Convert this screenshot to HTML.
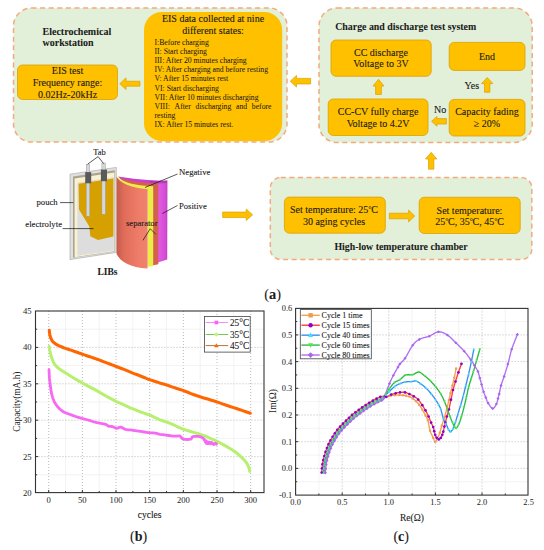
<!DOCTYPE html>
<html><head><meta charset="utf-8"><title>figure</title>
<style>html,body{margin:0;padding:0;background:#fff;}svg{display:block;}</style>
</head><body>
<svg width="544" height="550" viewBox="0 0 544 550" font-family='"Liberation Serif", serif'>
<rect width="544" height="550" fill="#ffffff"/>
<rect x="13.5" y="8" width="273.5" height="134" rx="18" ry="18" fill="#e2efd9" stroke="#f3aa7c" stroke-width="1.5" stroke-dasharray="5 3.6"/>
<text x="42.5" y="34.5" font-size="10" text-anchor="start" font-weight="bold" fill="#1a1a1a" stroke="#1a1a1a" stroke-width="0.06" >Electrochemical</text>
<text x="42.5" y="46.3" font-size="10" text-anchor="start" font-weight="bold" fill="#1a1a1a" stroke="#1a1a1a" stroke-width="0.06" >workstation</text>
<rect x="17.5" y="65" width="100.0" height="34.5" rx="5" ry="5" fill="#ffc000" stroke="#d9a100" stroke-width="0.8"/>
<text x="67.5" y="74" font-size="10" text-anchor="middle" font-weight="normal" fill="#1a1a1a" stroke="#1a1a1a" stroke-width="0.1" >EIS test</text>
<text x="67.5" y="86" font-size="10" text-anchor="middle" font-weight="normal" fill="#1a1a1a" stroke="#1a1a1a" stroke-width="0.1" >Frequency range:</text>
<text x="67.5" y="97.6" font-size="10" text-anchor="middle" font-weight="normal" fill="#1a1a1a" stroke="#1a1a1a" stroke-width="0.1" >0.02Hz-20kHz</text>
<polygon points="119.75,83.70 126.00,77.90 126.00,81.25 139.95,81.25 139.95,86.15 126.00,86.15 126.00,89.50" fill="#ffc000" stroke="#d9a100" stroke-width="0.7" stroke-linejoin="miter"/>
<rect x="144" y="12" width="138.2" height="129" rx="18" ry="18" fill="#ffc000"/>
<text x="213" y="22.3" font-size="10" text-anchor="middle" font-weight="normal" fill="#1a1a1a" stroke="#1a1a1a" stroke-width="0.1" >EIS data collected at nine</text>
<text x="213" y="34.0" font-size="10" text-anchor="middle" font-weight="normal" fill="#1a1a1a" stroke="#1a1a1a" stroke-width="0.1" >different states:</text>
<text x="154.5" y="44.60" font-size="7.7" text-anchor="start" font-weight="normal" fill="#1a1a1a" stroke="#1a1a1a" stroke-width="0.04" >I:Before charging</text>
<text x="154.5" y="53.78" font-size="7.7" text-anchor="start" font-weight="normal" fill="#1a1a1a" stroke="#1a1a1a" stroke-width="0.04" >II: Start charging</text>
<text x="154.5" y="62.96" font-size="7.7" text-anchor="start" font-weight="normal" fill="#1a1a1a" stroke="#1a1a1a" stroke-width="0.04" >III: After 20 minutes charging</text>
<text x="154.5" y="72.14" font-size="7.7" text-anchor="start" font-weight="normal" fill="#1a1a1a" stroke="#1a1a1a" stroke-width="0.04" >IV: After charging and before resting</text>
<text x="154.5" y="81.32" font-size="7.7" text-anchor="start" font-weight="normal" fill="#1a1a1a" stroke="#1a1a1a" stroke-width="0.04" >V: After 15 minutes rest</text>
<text x="154.5" y="90.50" font-size="7.7" text-anchor="start" font-weight="normal" fill="#1a1a1a" stroke="#1a1a1a" stroke-width="0.04" >VI: Start discharging</text>
<text x="154.5" y="99.68" font-size="7.7" text-anchor="start" font-weight="normal" fill="#1a1a1a" stroke="#1a1a1a" stroke-width="0.04" >VII: After 10 minutes discharging</text>
<text x="154.50" y="108.86" font-size="7.7" text-anchor="start" font-weight="normal" fill="#1a1a1a" stroke="#1a1a1a" stroke-width="0.04" >VIII:</text>
<text x="174.59" y="108.86" font-size="7.7" text-anchor="start" font-weight="normal" fill="#1a1a1a" stroke="#1a1a1a" stroke-width="0.04" >After</text>
<text x="195.54" y="108.86" font-size="7.7" text-anchor="start" font-weight="normal" fill="#1a1a1a" stroke="#1a1a1a" stroke-width="0.04" >discharging</text>
<text x="236.02" y="108.86" font-size="7.7" text-anchor="start" font-weight="normal" fill="#1a1a1a" stroke="#1a1a1a" stroke-width="0.04" >and</text>
<text x="251.84" y="108.86" font-size="7.7" text-anchor="start" font-weight="normal" fill="#1a1a1a" stroke="#1a1a1a" stroke-width="0.04" >before</text>
<text x="154.5" y="118.04" font-size="7.7" text-anchor="start" font-weight="normal" fill="#1a1a1a" stroke="#1a1a1a" stroke-width="0.04" >resting</text>
<text x="154.5" y="127.22" font-size="7.7" text-anchor="start" font-weight="normal" fill="#1a1a1a" stroke="#1a1a1a" stroke-width="0.04" >IX: After 15 minutes rest.</text>
<polygon points="290.25,81.20 296.50,75.40 296.50,78.40 310.65,78.40 310.65,84.00 296.50,84.00 296.50,87.00" fill="#ffc000" stroke="#d9a100" stroke-width="0.7" stroke-linejoin="miter"/>
<rect x="319" y="8" width="213.20000000000005" height="134.5" rx="18" ry="18" fill="#e2efd9" stroke="#f3aa7c" stroke-width="1.5" stroke-dasharray="5 3.6"/>
<text x="335.2" y="30.1" font-size="9.9" text-anchor="start" font-weight="bold" fill="#1a1a1a" stroke="#1a1a1a" stroke-width="0.06" >Charge and discharge test system</text>
<rect x="331" y="40" width="100.19999999999999" height="36.3" rx="5" ry="5" fill="#ffc000" stroke="#d9a100" stroke-width="0.8"/>
<text x="381" y="55.8" font-size="10" text-anchor="middle" font-weight="normal" fill="#1a1a1a" stroke="#1a1a1a" stroke-width="0.1" >CC discharge</text>
<text x="381" y="67.4" font-size="10" text-anchor="middle" font-weight="normal" fill="#1a1a1a" stroke="#1a1a1a" stroke-width="0.1" >Voltage to 3V</text>
<rect x="449.2" y="42.4" width="75.80000000000001" height="28.000000000000007" rx="5" ry="5" fill="#ffc000" stroke="#d9a100" stroke-width="0.8"/>
<text x="487" y="60" font-size="10" text-anchor="middle" font-weight="normal" fill="#1a1a1a" stroke="#1a1a1a" stroke-width="0.1" >End</text>
<polygon points="378.50,79.25 384.00,86.00 381.40,86.00 381.40,94.45 375.60,94.45 375.60,86.00 373.00,86.00" fill="#ffc000" stroke="#d9a100" stroke-width="0.7"/>
<polygon points="487.20,77.50 492.90,83.60 489.90,83.60 489.90,92.30 484.50,92.30 484.50,83.60 481.50,83.60" fill="#ffc000" stroke="#d9a100" stroke-width="0.7"/>
<text x="464.5" y="89" font-size="10" text-anchor="start" font-weight="normal" fill="#1a1a1a" stroke="#1a1a1a" stroke-width="0.1" >Yes</text>
<rect x="328.2" y="99" width="99.80000000000001" height="36.5" rx="5" ry="5" fill="#ffc000" stroke="#d9a100" stroke-width="0.8"/>
<text x="378.1" y="115" font-size="10" text-anchor="middle" font-weight="normal" fill="#1a1a1a" stroke="#1a1a1a" stroke-width="0.1" >CC-CV fully charge</text>
<text x="378.1" y="126.5" font-size="10" text-anchor="middle" font-weight="normal" fill="#1a1a1a" stroke="#1a1a1a" stroke-width="0.1" >Voltage to 4.2V</text>
<rect x="449.2" y="99.4" width="75.80000000000001" height="36.599999999999994" rx="5" ry="5" fill="#ffc000" stroke="#d9a100" stroke-width="0.8"/>
<text x="487" y="115.2" font-size="10" text-anchor="middle" font-weight="normal" fill="#1a1a1a" stroke="#1a1a1a" stroke-width="0.1" >Capacity fading</text>
<text x="487" y="126.7" font-size="10" text-anchor="middle" font-weight="normal" fill="#1a1a1a" stroke="#1a1a1a" stroke-width="0.1" >&#8805; 20%</text>
<text x="434" y="112.9" font-size="10" text-anchor="start" font-weight="normal" fill="#1a1a1a" stroke="#1a1a1a" stroke-width="0.1" >No</text>
<polygon points="431.55,121.30 437.00,116.40 437.00,118.55 446.45,118.55 446.45,124.05 437.00,124.05 437.00,126.20" fill="#ffc000" stroke="#d9a100" stroke-width="0.7" stroke-linejoin="miter"/>
<polygon points="431.20,152.35 436.90,159.00 433.90,159.00 433.90,169.15 428.50,169.15 428.50,159.00 425.50,159.00" fill="#ffc000" stroke="#d9a100" stroke-width="0.7"/>
<rect x="270.3" y="177.5" width="261.49999999999994" height="82.10000000000002" rx="10.5" ry="10.5" fill="#e2efd9" stroke="#f3aa7c" stroke-width="1.5" stroke-dasharray="5 3.6"/>
<rect x="284.4" y="197.1" width="100.90000000000003" height="36.099999999999994" rx="5" ry="5" fill="#ffc000" stroke="#d9a100" stroke-width="0.8"/>
<text x="334" y="213.3" font-size="10" text-anchor="middle" font-weight="normal" fill="#1a1a1a" stroke="#1a1a1a" stroke-width="0.1" >Set temperature: 25<tspan font-size="8" dy="-1.5">&#176;</tspan><tspan dy="1.5" dx="-0.3">C</tspan></text>
<text x="334" y="225" font-size="10" text-anchor="middle" font-weight="normal" fill="#1a1a1a" stroke="#1a1a1a" stroke-width="0.1" >30 aging cycles</text>
<polygon points="414.75,216.00 408.60,210.05 408.60,213.20 389.35,213.20 389.35,218.80 408.60,218.80 408.60,221.95" fill="#ffc000" stroke="#d9a100" stroke-width="0.7"/>
<rect x="419.2" y="197.3" width="101.00000000000006" height="36.19999999999999" rx="5" ry="5" fill="#ffc000" stroke="#d9a100" stroke-width="0.8"/>
<text x="469.5" y="213.9" font-size="10" text-anchor="middle" font-weight="normal" fill="#1a1a1a" stroke="#1a1a1a" stroke-width="0.1" >Set temperature:</text>
<text x="469.5" y="225" font-size="10" text-anchor="middle" font-weight="normal" fill="#1a1a1a" stroke="#1a1a1a" stroke-width="0.1" >25<tspan font-size="8" dy="-1.5">&#176;</tspan><tspan dy="1.5" dx="-0.3">C</tspan>, 35<tspan font-size="8" dy="-1.5">&#176;</tspan><tspan dy="1.5" dx="-0.3">C</tspan>, 45<tspan font-size="8" dy="-1.5">&#176;</tspan><tspan dy="1.5" dx="-0.3">C</tspan></text>
<text x="401" y="250.4" font-size="9.85" text-anchor="middle" font-weight="bold" fill="#1a1a1a" stroke="#1a1a1a" stroke-width="0.06" >High-low temperature chamber</text>
<polygon points="252.65,214.80 246.20,209.10 246.20,212.05 222.65,212.05 222.65,217.55 246.20,217.55 246.20,220.50" fill="#ffc000" stroke="#d9a100" stroke-width="0.7"/>
<g id="lib">
<defs>
<linearGradient id="gfront" x1="116" x2="148" y1="0" y2="0" gradientUnits="userSpaceOnUse">
<stop offset="0" stop-color="#c4594a"/><stop offset="0.25" stop-color="#e06c5a"/><stop offset="0.7" stop-color="#ee7c68"/><stop offset="1" stop-color="#f0826e"/>
</linearGradient>
<linearGradient id="gmag" x1="150" x2="168" y1="0" y2="0" gradientUnits="userSpaceOnUse">
<stop offset="0" stop-color="#c940c9"/><stop offset="0.5" stop-color="#e25ae2"/><stop offset="0.9" stop-color="#d24ad2"/><stop offset="1" stop-color="#9a2a9a"/>
</linearGradient>
</defs>
<polygon points="70,174.2 116.3,167.4 116.3,252.4 70,259.6" fill="#e0e0e0" stroke="#a2a2a2" stroke-width="0.6"/>
<polygon points="73.0,176.6 114.8,170.2 114.8,251.6 73.0,257.8" fill="#aaa48e"/>
<polygon points="74.6,178.6 114.4,172.6 114.4,251.2 74.6,257.2" fill="#f8f1d2"/>
<polygon points="77.4,182.6 113.8,177.2 113.8,250.4 77.4,255.8" fill="#dddddd"/>
<polygon points="78.6,183.8 113.4,178.6 113.4,236.6 98,239.9 90.3,236.2 89.3,226.6 79,209.5" fill="#d6a000"/>
<rect x="86.2" y="164.5" width="3.6" height="51.8" fill="#d6d6d6" stroke="#909090" stroke-width="0.4"/>
<rect x="85.2" y="172.1" width="6.0" height="11.2" fill="#5a5a5a"/>
<rect x="101.9" y="163" width="3.6" height="51.4" fill="#d6d6d6" stroke="#909090" stroke-width="0.4"/>
<rect x="100.9" y="169.6" width="6.1" height="11.6" fill="#5a5a5a"/>
<path d="M118.3,176.4 C132,178.6 150,180.8 167.4,180.4 L167.2,259.6 L158,262.5 L147.6,189.2 C135,188.5 124,184 118.3,176.4 Z" fill="url(#gmag)"/>
<path d="M150,180.6 C156,181 162,181.2 167.4,180.4 L166,183 C160,183.6 155,183.4 150,183 Z" fill="#9a2c9a" opacity="0.55"/>
<path d="M119.5,177.2 C128,181 140,183 158.3,183.6 L158.3,264.3 L152,265.5 L152,188 C136,188 126,183.5 119.5,177.2 Z" fill="#d4604e"/>
<path d="M117.2,176.2 C121,181.2 131,185.2 153.2,186.2 L153.2,266.2 L147.5,266.8 L147.5,190.4 C134,189.4 124,186 117.6,179 Z" fill="#eded4a"/>
<path d="M116.6,177.1 C120.5,183 130,187.8 147.6,189.2 L147.6,268.6 C130,267.6 120.5,262 116.6,254.1 Z" fill="url(#gfront)"/>
</g>
<text x="93.2" y="154.7" font-size="8.4" text-anchor="start" font-weight="normal" fill="#1a1a1a" stroke="#1a1a1a" stroke-width="0.1" >Tab</text>
<path d="M98.1,156.6 L87.6,164.2 M98.1,156.6 L103.6,163.6" stroke="#111" stroke-width="0.7" fill="none"/>
<text x="57.7" y="205.3" font-size="8.7" text-anchor="end" font-weight="normal" fill="#1a1a1a" stroke="#1a1a1a" stroke-width="0.1" >pouch</text>
<path d="M60,202.6 L73.3,202.6" stroke="#111" stroke-width="0.7"/>
<text x="62" y="227.3" font-size="8.7" text-anchor="end" font-weight="normal" fill="#1a1a1a" stroke="#1a1a1a" stroke-width="0.1" >electrolyte</text>
<path d="M62.6,228.6 L93.5,228.6" stroke="#111" stroke-width="0.7"/>
<text x="179" y="174.8" font-size="8.7" text-anchor="start" font-weight="normal" fill="#1a1a1a" stroke="#1a1a1a" stroke-width="0.1" >Negative</text>
<path d="M177.5,174 L145,187.5" stroke="#111" stroke-width="0.7"/>
<text x="179" y="208.8" font-size="8.6" text-anchor="start" font-weight="normal" fill="#1a1a1a" stroke="#1a1a1a" stroke-width="0.1" >Positive</text>
<path d="M177.5,205.5 L162.4,213.5" stroke="#111" stroke-width="0.7"/>
<text x="126" y="226.3" font-size="8.6" text-anchor="start" font-weight="normal" fill="#1a1a1a" stroke="#1a1a1a" stroke-width="0.1" >separator</text>
<path d="M143,240.3 L150.2,228.7 L155.8,234.3" stroke="#111" stroke-width="0.7" fill="none"/>
<text x="97.4" y="274.9" font-size="9.5" text-anchor="start" font-weight="bold" fill="#1a1a1a" stroke="#1a1a1a" stroke-width="0.06" >LIBs</text>
<text x="264.3" y="298.7" font-size="14.4" text-anchor="start" font-weight="bold" fill="#1a1a1a" stroke="#1a1a1a" stroke-width="0.06" ><tspan font-weight="normal">(</tspan>a<tspan font-weight="normal">)</tspan></text>
<line x1="48.70" y1="311.0" x2="48.70" y2="492.6" stroke="#a8a8a8" stroke-width="0.8" stroke-dasharray="1 2"/>
<line x1="65.53" y1="311.0" x2="65.53" y2="492.6" stroke="#eeeeee" stroke-width="0.7"/>
<line x1="82.37" y1="311.0" x2="82.37" y2="492.6" stroke="#a8a8a8" stroke-width="0.8" stroke-dasharray="1 2"/>
<line x1="99.20" y1="311.0" x2="99.20" y2="492.6" stroke="#eeeeee" stroke-width="0.7"/>
<line x1="116.03" y1="311.0" x2="116.03" y2="492.6" stroke="#a8a8a8" stroke-width="0.8" stroke-dasharray="1 2"/>
<line x1="132.86" y1="311.0" x2="132.86" y2="492.6" stroke="#eeeeee" stroke-width="0.7"/>
<line x1="149.69" y1="311.0" x2="149.69" y2="492.6" stroke="#a8a8a8" stroke-width="0.8" stroke-dasharray="1 2"/>
<line x1="166.53" y1="311.0" x2="166.53" y2="492.6" stroke="#eeeeee" stroke-width="0.7"/>
<line x1="183.36" y1="311.0" x2="183.36" y2="492.6" stroke="#a8a8a8" stroke-width="0.8" stroke-dasharray="1 2"/>
<line x1="200.19" y1="311.0" x2="200.19" y2="492.6" stroke="#eeeeee" stroke-width="0.7"/>
<line x1="217.02" y1="311.0" x2="217.02" y2="492.6" stroke="#a8a8a8" stroke-width="0.8" stroke-dasharray="1 2"/>
<line x1="233.86" y1="311.0" x2="233.86" y2="492.6" stroke="#eeeeee" stroke-width="0.7"/>
<line x1="250.69" y1="311.0" x2="250.69" y2="492.6" stroke="#a8a8a8" stroke-width="0.8" stroke-dasharray="1 2"/>
<line x1="35.5" y1="474.80" x2="264.0" y2="474.80" stroke="#eeeeee" stroke-width="0.7"/>
<line x1="35.5" y1="456.60" x2="264.0" y2="456.60" stroke="#a8a8a8" stroke-width="0.8" stroke-dasharray="1 2"/>
<line x1="35.5" y1="438.40" x2="264.0" y2="438.40" stroke="#eeeeee" stroke-width="0.7"/>
<line x1="35.5" y1="420.20" x2="264.0" y2="420.20" stroke="#a8a8a8" stroke-width="0.8" stroke-dasharray="1 2"/>
<line x1="35.5" y1="402.00" x2="264.0" y2="402.00" stroke="#eeeeee" stroke-width="0.7"/>
<line x1="35.5" y1="383.80" x2="264.0" y2="383.80" stroke="#a8a8a8" stroke-width="0.8" stroke-dasharray="1 2"/>
<line x1="35.5" y1="365.60" x2="264.0" y2="365.60" stroke="#eeeeee" stroke-width="0.7"/>
<line x1="35.5" y1="347.40" x2="264.0" y2="347.40" stroke="#a8a8a8" stroke-width="0.8" stroke-dasharray="1 2"/>
<line x1="35.5" y1="329.20" x2="264.0" y2="329.20" stroke="#eeeeee" stroke-width="0.7"/>
<polyline points="49.20,346.40 49.37,347.60 49.61,349.31 49.90,351.00 50.22,352.47 50.58,353.91 51.00,355.40 51.46,356.97 51.97,358.59 52.60,360.20 53.36,361.85 54.23,363.50 55.20,365.00 56.19,366.20 57.27,367.24 58.70,368.40 60.59,369.75 62.82,371.21 65.30,372.80 68.11,374.59 71.17,376.51 74.10,378.30 76.79,379.87 79.35,381.33 81.80,382.70 84.07,383.97 86.23,385.17 88.50,386.40 90.91,387.65 93.44,388.94 96.20,390.40 99.30,392.16 102.64,394.10 106.00,396.00 109.39,397.85 112.81,399.67 116.00,401.30 118.75,402.60 121.28,403.71 124.00,404.90 127.08,406.29 130.35,407.76 133.70,409.20 137.28,410.63 140.94,412.03 144.10,413.20 146.40,413.99 148.19,414.55 150.00,415.20 152.07,416.11 154.14,417.11 156.00,418.00 157.30,418.63 158.38,419.14 160.00,419.80 162.67,420.74 165.89,421.82 168.90,422.90 171.39,423.93 173.69,424.96 176.00,426.00 178.27,427.05 180.56,428.11 183.30,429.20 186.81,430.32 190.76,431.46 194.60,432.60 198.26,433.76 201.81,434.93 204.90,436.00 207.25,436.92 209.13,437.76 211.00,438.60 213.14,439.54 215.26,440.49 217.00,441.30 217.98,441.81 218.57,442.17 219.50,442.70 221.11,443.54 223.06,444.56 225.00,445.60 226.83,446.63 228.66,447.69 230.50,448.80 232.36,449.95 234.24,451.16 236.10,452.50 238.01,454.08 239.90,455.80 241.60,457.40 243.02,458.80 244.24,460.09 245.30,461.30 246.17,462.42 246.88,463.46 247.50,464.50 248.04,465.55 248.50,466.60 248.90,467.70 249.27,469.03 249.59,470.42 249.80,471.40" fill="none" stroke="#b6f06e" stroke-width="3.0" stroke-linejoin="round" stroke-linecap="round" />
<polyline points="49.00,369.70 49.11,372.04 49.27,375.37 49.50,378.70 49.82,381.76 50.21,384.81 50.60,387.60 50.93,389.97 51.25,392.09 51.70,394.20 52.31,396.44 53.04,398.68 53.90,400.80 54.88,402.76 55.98,404.60 57.20,406.30 58.58,407.86 60.09,409.27 61.60,410.50 62.93,411.43 64.28,412.18 66.10,413.00 68.76,414.05 71.90,415.17 74.90,416.20 77.56,417.06 80.08,417.83 82.40,418.50 84.43,419.05 86.25,419.51 88.10,420.00 90.05,420.59 92.02,421.22 94.00,421.80 96.01,422.31 98.03,422.77 100.00,423.20 101.95,423.56 103.85,423.88 105.50,424.30 106.76,424.97 107.78,425.73 108.80,426.30 109.86,426.44 110.92,426.38 112.10,426.50 113.54,427.09 115.10,427.85 116.50,428.30 117.62,428.13 118.58,427.65 119.50,427.30 120.37,427.21 121.20,427.26 122.10,427.50 122.99,428.04 123.95,428.78 125.40,429.40 127.52,429.74 130.13,429.98 133.10,430.30 136.73,430.84 140.72,431.48 144.10,432.00 146.34,432.32 147.97,432.53 149.60,432.70 151.46,432.83 153.31,432.92 155.10,433.10 156.63,433.44 158.09,433.87 160.00,434.30 162.76,434.72 165.97,435.14 168.90,435.50 171.29,435.81 173.40,436.06 175.30,436.20 177.01,436.06 178.51,435.80 179.80,435.90 180.79,436.71 181.56,437.89 182.40,438.80 183.35,439.20 184.37,439.34 185.60,439.40 187.27,439.48 189.16,439.47 190.70,439.20 191.50,438.42 191.96,437.38 192.70,436.60 194.04,436.33 195.66,436.32 197.20,436.40 198.54,436.47 199.80,436.64 201.00,437.00 202.19,437.61 203.32,438.43 204.30,439.40 205.01,440.69 205.57,442.14 206.20,443.20 207.02,443.61 207.91,443.64 208.80,443.50 209.66,443.09 210.51,442.52 211.30,442.30 212.01,442.83 212.66,443.71 213.30,444.30 213.96,444.23 214.61,443.85 215.20,443.60 215.73,443.67 216.19,443.86 216.50,444.00" fill="none" stroke="#f569f3" stroke-width="2.8" stroke-linejoin="round" stroke-linecap="round" />
<polyline points="203.90,439.10 205.60,442.10 206.60,440.60 207.30,443.80 209.00,441.70 210.70,444.20 212.40,442.90 214.10,444.60 215.50,443.00 216.60,444.20" fill="none" stroke="#f569f3" stroke-width="2.2" stroke-linejoin="round" stroke-linecap="round" />
<polyline points="49.30,330.40 49.40,331.49 49.56,333.04 49.80,334.60 50.14,336.03 50.56,337.46 51.10,338.80 51.76,340.03 52.52,341.17 53.40,342.20 54.41,343.10 55.53,343.88 56.70,344.60 57.89,345.24 59.13,345.81 60.50,346.40 62.04,347.05 63.71,347.73 65.50,348.40 67.47,349.07 69.57,349.74 71.60,350.40 73.49,351.04 75.30,351.67 77.10,352.30 78.87,352.93 80.61,353.56 82.40,354.20 84.28,354.87 86.20,355.54 88.10,356.20 89.95,356.81 91.77,357.40 93.60,358.00 95.40,358.60 97.20,359.22 99.10,359.90 101.20,360.70 103.40,361.57 105.50,362.40 107.41,363.13 109.21,363.82 111.00,364.50 112.76,365.17 114.50,365.82 116.30,366.50 118.21,367.22 120.17,367.96 122.10,368.70 123.97,369.43 125.80,370.17 127.60,370.90 129.33,371.63 131.03,372.37 132.80,373.10 134.70,373.83 136.67,374.57 138.60,375.30 140.47,376.04 142.31,376.78 144.10,377.50 145.77,378.19 147.38,378.85 149.10,379.50 151.05,380.14 153.11,380.78 155.10,381.40 156.92,382.01 158.68,382.61 160.50,383.20 162.40,383.74 164.37,384.26 166.50,384.90 168.83,385.72 171.33,386.66 174.00,387.60 176.93,388.51 180.02,389.43 183.00,390.40 185.70,391.44 188.29,392.52 191.00,393.60 193.98,394.69 197.08,395.79 200.10,396.80 202.95,397.68 205.72,398.49 208.50,399.30 211.34,400.15 214.20,401.01 217.00,401.90 219.68,402.85 222.31,403.83 225.00,404.80 227.83,405.74 230.73,406.67 233.60,407.60 236.42,408.53 239.21,409.47 242.00,410.40 245.08,411.44 248.15,412.47 250.30,413.20" fill="none" stroke="#ff6600" stroke-width="3.1" stroke-linejoin="round" stroke-linecap="round" />
<rect x="35.5" y="311.0" width="228.5" height="181.60000000000002" fill="none" stroke="#333" stroke-width="1.1"/>
<path d="M48.70,492.6 v-2.6 M65.53,492.6 v-1.6 M82.37,492.6 v-2.6 M99.20,492.6 v-1.6 M116.03,492.6 v-2.6 M132.86,492.6 v-1.6 M149.69,492.6 v-2.6 M166.53,492.6 v-1.6 M183.36,492.6 v-2.6 M200.19,492.6 v-1.6 M217.02,492.6 v-2.6 M233.86,492.6 v-1.6 M250.69,492.6 v-2.6 M35.5,474.80 h1.6 M35.5,456.60 h2.6 M35.5,438.40 h1.6 M35.5,420.20 h2.6 M35.5,402.00 h1.6 M35.5,383.80 h2.6 M35.5,365.60 h1.6 M35.5,347.40 h2.6 M35.5,329.20 h1.6" stroke="#333" stroke-width="1"/>
<text x="31.6" y="496.00" font-size="8.6" text-anchor="end" font-weight="normal" fill="#1a1a1a" stroke="#1a1a1a" stroke-width="0" >20</text>
<text x="31.6" y="459.60" font-size="8.6" text-anchor="end" font-weight="normal" fill="#1a1a1a" stroke="#1a1a1a" stroke-width="0" >25</text>
<text x="31.6" y="423.20" font-size="8.6" text-anchor="end" font-weight="normal" fill="#1a1a1a" stroke="#1a1a1a" stroke-width="0" >30</text>
<text x="31.6" y="386.80" font-size="8.6" text-anchor="end" font-weight="normal" fill="#1a1a1a" stroke="#1a1a1a" stroke-width="0" >35</text>
<text x="31.6" y="350.40" font-size="8.6" text-anchor="end" font-weight="normal" fill="#1a1a1a" stroke="#1a1a1a" stroke-width="0" >40</text>
<text x="31.6" y="314.00" font-size="8.6" text-anchor="end" font-weight="normal" fill="#1a1a1a" stroke="#1a1a1a" stroke-width="0" >45</text>
<text x="48.70" y="502.5" font-size="8.6" text-anchor="middle" font-weight="normal" fill="#1a1a1a" stroke="#1a1a1a" stroke-width="0" >0</text>
<text x="82.37" y="502.5" font-size="8.6" text-anchor="middle" font-weight="normal" fill="#1a1a1a" stroke="#1a1a1a" stroke-width="0" >50</text>
<text x="116.03" y="502.5" font-size="8.6" text-anchor="middle" font-weight="normal" fill="#1a1a1a" stroke="#1a1a1a" stroke-width="0" >100</text>
<text x="149.69" y="502.5" font-size="8.6" text-anchor="middle" font-weight="normal" fill="#1a1a1a" stroke="#1a1a1a" stroke-width="0" >150</text>
<text x="183.36" y="502.5" font-size="8.6" text-anchor="middle" font-weight="normal" fill="#1a1a1a" stroke="#1a1a1a" stroke-width="0" >200</text>
<text x="217.02" y="502.5" font-size="8.6" text-anchor="middle" font-weight="normal" fill="#1a1a1a" stroke="#1a1a1a" stroke-width="0" >250</text>
<text x="250.69" y="502.5" font-size="8.6" text-anchor="middle" font-weight="normal" fill="#1a1a1a" stroke="#1a1a1a" stroke-width="0" >300</text>
<text x="149.6" y="517.9" font-size="9.5" text-anchor="middle" font-weight="normal" fill="#1a1a1a" stroke="#1a1a1a" stroke-width="0.1" >cycles</text>
<text x="0" y="0" font-size="9.3" text-anchor="middle" fill="#1a1a1a" transform="translate(19.6,401.7) rotate(-90)">Capacity(mA.h)</text>
<text x="130" y="541.1" font-size="14" text-anchor="start" font-weight="bold" fill="#1a1a1a" stroke="#1a1a1a" stroke-width="0.06" ><tspan font-weight="normal">(</tspan>b<tspan font-weight="normal">)</tspan></text>
<rect x="204.5" y="316.4" width="45.7" height="35.7" fill="#fff" stroke="#444" stroke-width="0.8"/>
<line x1="205.7" y1="322.5" x2="228.2" y2="322.5" stroke="#ff88ff" stroke-width="1"/>
<rect x="214.6" y="320.7" width="3.6" height="3.6" fill="#ff5cff"/>
<line x1="205.7" y1="334.5" x2="228.2" y2="334.5" stroke="#78c848" stroke-width="1"/>
<circle cx="216.4" cy="334.5" r="2" fill="#c8f090"/>
<line x1="205.7" y1="345.6" x2="228.2" y2="345.6" stroke="#c0703c" stroke-width="1"/>
<polygon points="216.4,343.2 218.7,347.3 214.1,347.3" fill="#ff6600"/>
<text x="229.9" y="325.7" font-size="9.4" text-anchor="start" font-weight="normal" fill="#1a1a1a" stroke="#1a1a1a" stroke-width="0.1" >25&#176;C</text>
<text x="229.9" y="337.8" font-size="9.4" text-anchor="start" font-weight="normal" fill="#1a1a1a" stroke="#1a1a1a" stroke-width="0.1" >35&#176;C</text>
<text x="229.9" y="348.9" font-size="9.4" text-anchor="start" font-weight="normal" fill="#1a1a1a" stroke="#1a1a1a" stroke-width="0.1" >45&#176;C</text>
<line x1="318.90" y1="308.4" x2="318.90" y2="495.1" stroke="#eeeeee" stroke-width="0.7"/>
<line x1="342.20" y1="308.4" x2="342.20" y2="495.1" stroke="#a8a8a8" stroke-width="0.8" stroke-dasharray="1 2"/>
<line x1="365.50" y1="308.4" x2="365.50" y2="495.1" stroke="#eeeeee" stroke-width="0.7"/>
<line x1="388.80" y1="308.4" x2="388.80" y2="495.1" stroke="#a8a8a8" stroke-width="0.8" stroke-dasharray="1 2"/>
<line x1="412.10" y1="308.4" x2="412.10" y2="495.1" stroke="#eeeeee" stroke-width="0.7"/>
<line x1="435.40" y1="308.4" x2="435.40" y2="495.1" stroke="#a8a8a8" stroke-width="0.8" stroke-dasharray="1 2"/>
<line x1="458.70" y1="308.4" x2="458.70" y2="495.1" stroke="#eeeeee" stroke-width="0.7"/>
<line x1="482.00" y1="308.4" x2="482.00" y2="495.1" stroke="#a8a8a8" stroke-width="0.8" stroke-dasharray="1 2"/>
<line x1="505.30" y1="308.4" x2="505.30" y2="495.1" stroke="#eeeeee" stroke-width="0.7"/>
<line x1="295.6" y1="481.75" x2="528.0" y2="481.75" stroke="#eeeeee" stroke-width="0.7"/>
<line x1="295.6" y1="468.40" x2="528.0" y2="468.40" stroke="#a8a8a8" stroke-width="0.8" stroke-dasharray="1 2"/>
<line x1="295.6" y1="455.05" x2="528.0" y2="455.05" stroke="#eeeeee" stroke-width="0.7"/>
<line x1="295.6" y1="441.70" x2="528.0" y2="441.70" stroke="#a8a8a8" stroke-width="0.8" stroke-dasharray="1 2"/>
<line x1="295.6" y1="428.35" x2="528.0" y2="428.35" stroke="#eeeeee" stroke-width="0.7"/>
<line x1="295.6" y1="415.00" x2="528.0" y2="415.00" stroke="#a8a8a8" stroke-width="0.8" stroke-dasharray="1 2"/>
<line x1="295.6" y1="401.65" x2="528.0" y2="401.65" stroke="#eeeeee" stroke-width="0.7"/>
<line x1="295.6" y1="388.30" x2="528.0" y2="388.30" stroke="#a8a8a8" stroke-width="0.8" stroke-dasharray="1 2"/>
<line x1="295.6" y1="374.95" x2="528.0" y2="374.95" stroke="#eeeeee" stroke-width="0.7"/>
<line x1="295.6" y1="361.60" x2="528.0" y2="361.60" stroke="#a8a8a8" stroke-width="0.8" stroke-dasharray="1 2"/>
<line x1="295.6" y1="348.25" x2="528.0" y2="348.25" stroke="#eeeeee" stroke-width="0.7"/>
<line x1="295.6" y1="334.90" x2="528.0" y2="334.90" stroke="#a8a8a8" stroke-width="0.8" stroke-dasharray="1 2"/>
<line x1="295.6" y1="321.55" x2="528.0" y2="321.55" stroke="#eeeeee" stroke-width="0.7"/>
<polyline points="323.30,472.68 323.41,471.28 323.56,469.26 323.76,467.02 324.00,464.97 324.29,463.19 324.62,461.46 324.99,459.76 325.41,458.05 325.87,456.32 326.37,454.59 326.92,452.86 327.51,451.13 328.15,449.39 328.83,447.63 329.56,445.89 330.32,444.21 331.11,442.61 331.94,441.07 332.81,439.54 333.73,438.00 334.71,436.40 335.75,434.79 336.83,433.20 337.94,431.68 339.10,430.23 340.30,428.83 341.53,427.47 342.75,426.16 343.98,424.91 345.21,423.70 346.44,422.53 347.66,421.36 348.87,420.17 350.07,418.99 351.27,417.84 352.47,416.75 353.67,415.73 354.87,414.78 356.08,413.85 357.28,412.94 358.48,412.04 359.67,411.16 360.87,410.30 362.08,409.44 363.32,408.57 364.58,407.71 365.83,406.86 367.09,406.03 368.34,405.23 369.60,404.44 370.85,403.67 372.10,402.93 373.36,402.21 374.62,401.52 375.87,400.85 377.11,400.22 378.33,399.61 379.54,399.01 380.74,398.47 381.92,398.02 383.09,397.69 384.25,397.45 385.39,397.25 386.50,397.00 387.55,396.68 388.56,396.32 389.57,395.98 390.60,395.70 391.68,395.51 392.78,395.38 393.89,395.28 395.00,395.20 396.12,395.14 397.25,395.11 398.36,395.09 399.40,395.10 400.37,395.12 401.29,395.17 402.16,395.23 403.00,395.30 403.78,395.37 404.51,395.46 405.23,395.56 406.00,395.70 406.85,395.87 407.74,396.06 408.63,396.29 409.50,396.60 410.32,396.99 411.11,397.44 411.90,397.95 412.70,398.50 413.52,399.10 414.36,399.76 415.19,400.46 416.00,401.20 416.76,401.96 417.50,402.76 418.24,403.62 419.00,404.60 419.80,405.71 420.63,406.94 421.47,408.24 422.30,409.60 423.15,411.06 424.02,412.63 424.85,414.18 425.60,415.60 426.23,416.71 426.76,417.62 427.27,418.67 427.80,420.20 428.35,422.49 428.89,425.29 429.47,428.18 430.10,430.70 430.84,432.78 431.67,434.65 432.48,436.32 433.20,437.80 433.78,439.20 434.27,440.48 434.73,441.44 435.20,441.90 435.69,441.72 436.16,441.04 436.66,440.04 437.20,438.90 437.82,437.60 438.50,436.06 439.18,434.39 439.80,432.70 440.33,431.01 440.80,429.27 441.27,427.47 441.80,425.60 442.41,423.67 443.07,421.68 443.74,419.63 444.40,417.50 445.04,415.25 445.69,412.90 446.31,410.55 446.90,408.30 447.44,406.17 447.96,404.12 448.44,402.13 448.90,400.20 449.32,398.36 449.71,396.61 450.09,394.88 450.50,393.10 450.95,391.26 451.43,389.41 451.92,387.52 452.40,385.60 452.88,383.66 453.36,381.70 453.83,379.69 454.30,377.60 454.80,375.19 455.32,372.55 455.78,370.16 456.10,368.50" fill="none" stroke="#f7a055" stroke-width="1.35" stroke-linejoin="round" stroke-linecap="round" />
<polyline points="321.71,472.54 321.82,471.12 321.97,469.08 322.17,466.82 322.42,464.74 322.71,462.92 323.05,461.15 323.43,459.41 323.86,457.66 324.33,455.89 324.84,454.13 325.40,452.36 326.00,450.60 326.66,448.81 327.35,447.02 328.10,445.25 328.87,443.53 329.68,441.89 330.53,440.31 331.42,438.75 332.36,437.16 333.37,435.54 334.43,433.89 335.53,432.27 336.67,430.71 337.85,429.22 339.09,427.79 340.34,426.40 341.59,425.07 342.83,423.79 344.07,422.58 345.31,421.39 346.55,420.21 347.77,419.01 348.98,417.82 350.20,416.65 351.41,415.55 352.64,414.51 353.86,413.54 355.09,412.59 356.31,411.67 357.52,410.76 358.73,409.87 359.94,409.00 361.16,408.13 362.41,407.25 363.68,406.39 364.95,405.53 366.22,404.69 367.49,403.87 368.76,403.07 370.03,402.30 371.30,401.54 372.58,400.81 373.86,400.11 375.14,399.43 376.40,398.79 377.62,398.14 378.83,397.49 380.04,396.93 381.25,396.56 382.48,396.51 383.72,396.68 384.96,396.85 386.20,396.80 387.46,396.40 388.73,395.80 389.99,395.14 391.20,394.60 392.34,394.20 393.44,393.87 394.51,393.58 395.60,393.30 396.69,393.03 397.76,392.77 398.86,392.55 400.00,392.40 401.22,392.30 402.50,392.24 403.78,392.27 405.00,392.40 406.14,392.67 407.24,393.06 408.31,393.51 409.40,394.00 410.50,394.50 411.60,395.04 412.70,395.64 413.80,396.30 414.91,397.00 416.02,397.74 417.12,398.59 418.20,399.60 419.27,400.85 420.32,402.28 421.35,403.77 422.30,405.20 423.17,406.51 423.96,407.77 424.73,409.05 425.50,410.40 426.30,411.86 427.09,413.39 427.87,414.95 428.60,416.50 429.28,418.06 429.91,419.65 430.52,421.19 431.10,422.60 431.68,423.85 432.24,424.98 432.76,426.04 433.20,427.10 433.53,428.16 433.77,429.21 433.98,430.22 434.20,431.20 434.44,432.15 434.67,433.07 434.91,433.95 435.20,434.80 435.53,435.62 435.88,436.43 436.27,437.16 436.70,437.80 437.19,438.37 437.72,438.89 438.27,439.26 438.80,439.40 439.32,439.26 439.84,438.89 440.34,438.37 440.80,437.80 441.22,437.15 441.61,436.39 441.97,435.59 442.30,434.80 442.58,434.08 442.83,433.38 443.05,432.62 443.30,431.70 443.57,430.54 443.85,429.21 444.13,427.84 444.40,426.60 444.65,425.57 444.87,424.66 445.12,423.72 445.40,422.60 445.73,421.25 446.09,419.75 446.48,418.15 446.90,416.50 447.36,414.83 447.86,413.12 448.38,411.29 448.90,409.30 449.42,407.07 449.95,404.66 450.48,402.16 451.00,399.70 451.50,397.25 451.98,394.78 452.47,392.34 453.00,390.00 453.58,387.80 454.19,385.71 454.84,383.64 455.50,381.50 456.19,379.26 456.91,376.96 457.65,374.65 458.40,372.40 459.23,370.01 460.13,367.53 460.94,365.33 461.50,363.80" fill="none" stroke="#ff3c3c" stroke-width="1.35" stroke-linejoin="round" stroke-linecap="round" />
<polyline points="323.50,472.70 323.61,471.30 323.76,469.28 323.96,467.05 324.20,465.00 324.48,463.22 324.81,461.50 325.18,459.81 325.60,458.10 326.06,456.38 326.56,454.65 327.11,452.93 327.70,451.20 328.34,449.46 329.02,447.71 329.74,445.98 330.50,444.30 331.29,442.70 332.11,441.16 332.98,439.64 333.90,438.10 334.88,436.51 335.91,434.91 336.99,433.32 338.10,431.80 339.26,430.35 340.46,428.96 341.68,427.61 342.90,426.30 344.12,425.05 345.35,423.84 346.58,422.67 347.80,421.50 349.01,420.32 350.21,419.14 351.40,417.99 352.60,416.90 353.80,415.89 355.00,414.93 356.20,414.01 357.40,413.10 358.60,412.20 359.79,411.33 360.99,410.46 362.20,409.60 363.44,408.74 364.69,407.88 365.95,407.03 367.20,406.20 368.45,405.39 369.70,404.61 370.95,403.84 372.20,403.10 373.45,402.39 374.71,401.69 375.96,401.03 377.20,400.40 378.35,399.93 379.44,399.56 380.61,399.07 382.00,398.20 383.73,396.76 385.71,394.92 387.70,393.00 389.50,391.30 391.03,389.86 392.41,388.54 393.71,387.34 395.00,386.30 396.27,385.44 397.50,384.74 398.73,384.15 400.00,383.60 401.34,383.07 402.72,382.60 404.11,382.20 405.50,381.90 406.89,381.73 408.28,381.67 409.66,381.66 411.00,381.60 412.30,381.42 413.57,381.18 414.80,381.02 416.00,381.10 417.12,381.47 418.17,382.04 419.24,382.77 420.40,383.60 421.70,384.53 423.08,385.58 424.50,386.74 425.90,388.00 427.30,389.39 428.72,390.89 430.10,392.46 431.40,394.00 432.61,395.56 433.77,397.14 434.84,398.69 435.80,400.10 436.63,401.33 437.34,402.44 437.98,403.50 438.60,404.60 439.19,405.66 439.72,406.66 440.24,407.80 440.80,409.30 441.40,411.38 442.03,413.88 442.66,416.38 443.30,418.50 443.95,420.05 444.60,421.27 445.25,422.39 445.90,423.60 446.54,425.04 447.18,426.56 447.81,428.01 448.40,429.20 448.94,430.17 449.45,430.99 449.96,431.53 450.50,431.70 451.09,431.43 451.72,430.80 452.36,429.87 453.00,428.70 453.65,427.24 454.30,425.48 454.95,423.55 455.60,421.60 456.23,419.62 456.86,417.56 457.48,415.47 458.10,413.40 458.72,411.39 459.34,409.41 459.97,407.40 460.60,405.30 461.24,403.11 461.89,400.86 462.55,398.52 463.20,396.10 463.85,393.56 464.49,390.93 465.14,388.23 465.80,385.50 466.49,382.75 467.19,379.95 467.90,377.10 468.60,374.20 469.29,371.22 469.97,368.18 470.64,365.10 471.30,362.00 472.00,358.58 472.72,354.94 473.36,351.67 473.80,349.40" fill="none" stroke="#3c8cf0" stroke-width="1.35" stroke-linejoin="round" stroke-linecap="round" />
<polyline points="324.10,472.75 324.21,471.36 324.36,469.35 324.55,467.12 324.79,465.09 325.08,463.32 325.40,461.62 325.77,459.94 326.18,458.25 326.64,456.54 327.14,454.82 327.68,453.11 328.27,451.40 328.90,449.67 329.57,447.93 330.29,446.22 331.04,444.56 331.82,442.97 332.64,441.45 333.50,439.94 334.41,438.41 335.38,436.84 336.41,435.24 337.48,433.67 338.58,432.16 339.72,430.73 340.91,429.35 342.12,428.01 343.34,426.71 344.55,425.46 345.78,424.27 347.00,423.10 348.22,421.93 349.42,420.75 350.61,419.58 351.80,418.44 353.00,417.35 354.19,416.34 355.38,415.40 356.57,414.48 357.76,413.58 358.95,412.68 360.14,411.81 361.34,410.95 362.55,410.09 363.78,409.23 365.02,408.37 366.28,407.53 367.53,406.70 368.77,405.90 370.01,405.12 371.26,404.35 372.50,403.62 373.75,402.91 375.00,402.22 376.24,401.56 377.47,400.94 378.62,400.54 379.72,400.31 380.89,399.85 382.25,398.75 383.94,396.65 385.86,393.86 387.79,390.95 389.50,388.50 390.90,386.63 392.11,385.03 393.27,383.68 394.50,382.50 395.84,381.62 397.22,381.02 398.61,380.46 400.00,379.70 401.34,378.55 402.66,377.19 404.02,375.90 405.50,375.00 407.16,374.69 408.96,374.78 410.77,374.93 412.50,374.80 414.11,374.13 415.66,373.14 417.18,372.29 418.70,372.00 420.25,372.48 421.79,373.47 423.32,374.70 424.80,375.90 426.22,377.03 427.59,378.21 428.94,379.47 430.30,380.80 431.69,382.22 433.08,383.71 434.46,385.28 435.80,386.90 437.12,388.60 438.42,390.38 439.66,392.19 440.80,394.00 441.81,395.77 442.72,397.54 443.57,399.33 444.40,401.20 445.20,403.18 445.96,405.25 446.69,407.32 447.40,409.30 448.08,411.19 448.73,413.03 449.37,414.80 450.00,416.50 450.64,418.15 451.29,419.75 451.91,421.25 452.50,422.60 453.04,423.80 453.56,424.88 454.04,425.82 454.50,426.60 454.91,427.29 455.27,427.88 455.65,428.22 456.10,428.20 456.66,427.75 457.29,426.94 457.95,425.87 458.60,424.60 459.24,423.14 459.88,421.46 460.53,419.58 461.20,417.50 461.90,415.17 462.61,412.59 463.32,409.92 464.00,407.30 464.63,404.78 465.23,402.28 465.81,399.76 466.40,397.20 467.00,394.49 467.61,391.69 468.21,388.96 468.80,386.50 469.38,384.40 469.96,382.54 470.53,380.79 471.10,379.00 471.65,377.23 472.19,375.52 472.76,373.71 473.40,371.60 474.14,369.09 474.94,366.29 475.78,363.37 476.60,360.50 477.48,357.44 478.40,354.21 479.23,351.31 479.80,349.30" fill="none" stroke="#30b848" stroke-width="1.35" stroke-linejoin="round" stroke-linecap="round" />
<polyline points="325.39,472.87 325.50,471.49 325.65,469.49 325.85,467.29 326.08,465.27 326.36,463.53 326.68,461.86 327.04,460.22 327.44,458.57 327.89,456.89 328.38,455.20 328.91,453.52 329.49,451.84 330.11,450.14 330.78,448.43 331.48,446.74 332.22,445.11 332.98,443.56 333.79,442.06 334.63,440.58 335.52,439.09 336.48,437.54 337.48,435.98 338.53,434.43 339.61,432.95 340.73,431.55 341.90,430.19 343.09,428.88 344.28,427.60 345.48,426.37 346.70,425.18 347.92,424.02 349.12,422.86 350.31,421.70 351.50,420.53 352.67,419.40 353.85,418.33 355.03,417.34 356.20,416.40 357.37,415.50 358.55,414.61 359.73,413.73 360.91,412.86 362.09,412.01 363.29,411.15 364.52,410.30 365.75,409.45 367.00,408.61 368.24,407.79 369.47,407.00 370.70,406.22 371.93,405.47 373.15,404.74 374.38,404.04 375.61,403.37 376.84,402.72 378.05,402.10 379.33,401.52 380.65,400.97 381.86,400.45 382.79,399.93 383.24,399.70 383.35,399.67 383.48,399.27 384.00,397.90 385.11,395.05 386.58,391.14 388.14,387.04 389.50,383.60 390.57,381.10 391.51,379.07 392.41,377.23 393.40,375.30 394.57,373.12 395.83,370.87 397.03,368.78 398.00,367.10 398.56,366.05 398.86,365.46 399.17,364.93 399.80,364.10 400.83,362.99 402.09,361.77 403.53,360.24 405.10,358.20 406.86,355.30 408.82,351.75 410.82,348.20 412.70,345.30 414.34,343.27 415.85,341.74 417.43,340.52 419.30,339.40 421.58,338.44 424.14,337.71 426.78,337.02 429.30,336.20 431.64,335.01 433.92,333.60 436.16,332.39 438.40,331.80 440.65,331.96 442.89,332.64 445.11,333.70 447.30,335.00 449.46,336.61 451.58,338.57 453.69,340.70 455.80,342.80 457.95,344.86 460.12,346.96 462.23,349.08 464.20,351.20 466.04,353.38 467.79,355.61 469.40,357.76 470.80,359.70 471.93,361.36 472.84,362.81 473.66,364.19 474.50,365.60 475.43,367.06 476.37,368.51 477.25,369.98 478.00,371.50 478.57,373.08 479.01,374.71 479.39,376.36 479.80,378.00 480.25,379.61 480.69,381.20 481.14,382.82 481.60,384.50 482.08,386.31 482.57,388.20 483.08,390.07 483.60,391.80 484.13,393.34 484.68,394.76 485.24,396.12 485.80,397.50 486.31,398.91 486.80,400.31 487.36,401.71 488.10,403.10 489.11,404.72 490.31,406.49 491.56,407.94 492.70,408.60 493.74,408.18 494.74,406.99 495.64,405.45 496.40,404.00 496.96,402.67 497.36,401.25 497.68,399.83 498.00,398.50 498.31,397.37 498.59,396.38 498.87,395.29 499.20,393.90 499.58,392.11 499.98,390.04 500.44,387.82 501.00,385.60 501.67,383.44 502.43,381.25 503.25,378.94 504.10,376.40 505.00,373.60 505.96,370.60 506.93,367.42 507.90,364.10 508.81,360.58 509.68,356.86 510.62,353.07 511.70,349.30 513.12,345.23 514.79,340.93 516.33,337.08 517.40,334.40" fill="none" stroke="#b070f0" stroke-width="1.35" stroke-linejoin="round" stroke-linecap="round" />
<rect x="322.25" y="471.63" width="2.10" height="2.10" fill="#f39a4e"/><rect x="322.58" y="467.44" width="2.10" height="2.10" fill="#f39a4e"/><rect x="323.05" y="463.27" width="2.10" height="2.10" fill="#f39a4e"/><rect x="323.84" y="459.15" width="2.10" height="2.10" fill="#f39a4e"/><rect x="324.87" y="455.08" width="2.10" height="2.10" fill="#f39a4e"/><rect x="326.12" y="451.07" width="2.10" height="2.10" fill="#f39a4e"/><rect x="327.57" y="447.13" width="2.10" height="2.10" fill="#f39a4e"/><rect x="329.22" y="443.27" width="2.10" height="2.10" fill="#f39a4e"/><rect x="331.16" y="439.54" width="2.10" height="2.10" fill="#f39a4e"/><rect x="333.30" y="435.93" width="2.10" height="2.10" fill="#f39a4e"/><rect x="335.60" y="432.41" width="2.10" height="2.10" fill="#f39a4e"/><rect x="338.14" y="429.07" width="2.10" height="2.10" fill="#f39a4e"/><rect x="340.93" y="425.94" width="2.10" height="2.10" fill="#f39a4e"/><rect x="343.87" y="422.93" width="2.10" height="2.10" fill="#f39a4e"/><rect x="346.90" y="420.02" width="2.10" height="2.10" fill="#f39a4e"/><rect x="349.90" y="417.09" width="2.10" height="2.10" fill="#f39a4e"/><rect x="353.06" y="414.33" width="2.10" height="2.10" fill="#f39a4e"/><rect x="356.39" y="411.77" width="2.10" height="2.10" fill="#f39a4e"/><rect x="359.78" y="409.28" width="2.10" height="2.10" fill="#f39a4e"/><rect x="363.22" y="406.87" width="2.10" height="2.10" fill="#f39a4e"/><rect x="366.72" y="404.55" width="2.10" height="2.10" fill="#f39a4e"/><rect x="370.28" y="402.33" width="2.10" height="2.10" fill="#f39a4e"/><rect x="373.94" y="400.27" width="2.10" height="2.10" fill="#f39a4e"/><rect x="377.68" y="398.36" width="2.10" height="2.10" fill="#f39a4e"/><rect x="381.56" y="396.76" width="2.10" height="2.10" fill="#f39a4e"/><rect x="385.45" y="395.95" width="2.10" height="2.10" fill="#f39a4e"/><rect x="389.55" y="394.65" width="2.10" height="2.10" fill="#f39a4e"/><rect x="393.95" y="394.15" width="2.10" height="2.10" fill="#f39a4e"/><rect x="398.35" y="394.05" width="2.10" height="2.10" fill="#f39a4e"/><rect x="401.95" y="394.25" width="2.10" height="2.10" fill="#f39a4e"/><rect x="404.95" y="394.65" width="2.10" height="2.10" fill="#f39a4e"/><rect x="408.45" y="395.55" width="2.10" height="2.10" fill="#f39a4e"/><rect x="411.65" y="397.45" width="2.10" height="2.10" fill="#f39a4e"/><rect x="414.95" y="400.15" width="2.10" height="2.10" fill="#f39a4e"/><rect x="417.95" y="403.55" width="2.10" height="2.10" fill="#f39a4e"/><rect x="421.25" y="408.55" width="2.10" height="2.10" fill="#f39a4e"/><rect x="424.55" y="414.55" width="2.10" height="2.10" fill="#f39a4e"/><rect x="426.75" y="419.15" width="2.10" height="2.10" fill="#f39a4e"/><rect x="429.05" y="429.65" width="2.10" height="2.10" fill="#f39a4e"/><rect x="432.15" y="436.75" width="2.10" height="2.10" fill="#f39a4e"/><rect x="434.15" y="440.85" width="2.10" height="2.10" fill="#f39a4e"/><rect x="436.15" y="437.85" width="2.10" height="2.10" fill="#f39a4e"/><rect x="438.75" y="431.65" width="2.10" height="2.10" fill="#f39a4e"/><rect x="440.75" y="424.55" width="2.10" height="2.10" fill="#f39a4e"/><rect x="443.35" y="416.45" width="2.10" height="2.10" fill="#f39a4e"/><rect x="445.85" y="407.25" width="2.10" height="2.10" fill="#f39a4e"/><rect x="447.85" y="399.15" width="2.10" height="2.10" fill="#f39a4e"/><rect x="449.45" y="392.05" width="2.10" height="2.10" fill="#f39a4e"/><rect x="451.35" y="384.55" width="2.10" height="2.10" fill="#f39a4e"/><rect x="453.25" y="376.55" width="2.10" height="2.10" fill="#f39a4e"/><rect x="455.05" y="367.45" width="2.10" height="2.10" fill="#f39a4e"/>
<circle cx="321.71" cy="472.54" r="1.35" fill="#8a00cc"/><circle cx="322.04" cy="468.35" r="1.35" fill="#8a00cc"/><circle cx="322.51" cy="464.18" r="1.35" fill="#8a00cc"/><circle cx="323.28" cy="460.05" r="1.35" fill="#8a00cc"/><circle cx="324.30" cy="455.98" r="1.35" fill="#8a00cc"/><circle cx="325.53" cy="451.96" r="1.35" fill="#8a00cc"/><circle cx="326.96" cy="448.01" r="1.35" fill="#8a00cc"/><circle cx="328.59" cy="444.14" r="1.35" fill="#8a00cc"/><circle cx="330.48" cy="440.39" r="1.35" fill="#8a00cc"/><circle cx="332.60" cy="436.77" r="1.35" fill="#8a00cc"/><circle cx="334.87" cy="433.23" r="1.35" fill="#8a00cc"/><circle cx="337.35" cy="429.84" r="1.35" fill="#8a00cc"/><circle cx="340.10" cy="426.67" r="1.35" fill="#8a00cc"/><circle cx="342.99" cy="423.63" r="1.35" fill="#8a00cc"/><circle cx="346.02" cy="420.72" r="1.35" fill="#8a00cc"/><circle cx="349.02" cy="417.78" r="1.35" fill="#8a00cc"/><circle cx="352.12" cy="414.94" r="1.35" fill="#8a00cc"/><circle cx="355.42" cy="412.34" r="1.35" fill="#8a00cc"/><circle cx="358.78" cy="409.83" r="1.35" fill="#8a00cc"/><circle cx="362.21" cy="407.40" r="1.35" fill="#8a00cc"/><circle cx="365.68" cy="405.04" r="1.35" fill="#8a00cc"/><circle cx="369.22" cy="402.78" r="1.35" fill="#8a00cc"/><circle cx="372.85" cy="400.66" r="1.35" fill="#8a00cc"/><circle cx="376.56" cy="398.70" r="1.35" fill="#8a00cc"/><circle cx="380.32" cy="396.83" r="1.35" fill="#8a00cc"/><circle cx="384.47" cy="396.59" r="1.35" fill="#8a00cc"/><circle cx="386.20" cy="396.80" r="1.35" fill="#8a00cc"/><circle cx="391.20" cy="394.60" r="1.35" fill="#8a00cc"/><circle cx="395.60" cy="393.30" r="1.35" fill="#8a00cc"/><circle cx="400.00" cy="392.40" r="1.35" fill="#8a00cc"/><circle cx="405.00" cy="392.40" r="1.35" fill="#8a00cc"/><circle cx="409.40" cy="394.00" r="1.35" fill="#8a00cc"/><circle cx="413.80" cy="396.30" r="1.35" fill="#8a00cc"/><circle cx="418.20" cy="399.60" r="1.35" fill="#8a00cc"/><circle cx="422.30" cy="405.20" r="1.35" fill="#8a00cc"/><circle cx="425.50" cy="410.40" r="1.35" fill="#8a00cc"/><circle cx="428.60" cy="416.50" r="1.35" fill="#8a00cc"/><circle cx="431.10" cy="422.60" r="1.35" fill="#8a00cc"/><circle cx="433.20" cy="427.10" r="1.35" fill="#8a00cc"/><circle cx="434.20" cy="431.20" r="1.35" fill="#8a00cc"/><circle cx="435.20" cy="434.80" r="1.35" fill="#8a00cc"/><circle cx="436.70" cy="437.80" r="1.35" fill="#8a00cc"/><circle cx="438.80" cy="439.40" r="1.35" fill="#8a00cc"/><circle cx="440.80" cy="437.80" r="1.35" fill="#8a00cc"/><circle cx="442.30" cy="434.80" r="1.35" fill="#8a00cc"/><circle cx="443.30" cy="431.70" r="1.35" fill="#8a00cc"/><circle cx="444.40" cy="426.60" r="1.35" fill="#8a00cc"/><circle cx="445.40" cy="422.60" r="1.35" fill="#8a00cc"/><circle cx="446.90" cy="416.50" r="1.35" fill="#8a00cc"/><circle cx="448.90" cy="409.30" r="1.35" fill="#8a00cc"/><circle cx="451.00" cy="399.70" r="1.35" fill="#8a00cc"/><circle cx="453.00" cy="390.00" r="1.35" fill="#8a00cc"/><circle cx="455.50" cy="381.50" r="1.35" fill="#8a00cc"/><circle cx="458.40" cy="372.40" r="1.35" fill="#8a00cc"/><circle cx="461.50" cy="363.80" r="1.35" fill="#8a00cc"/>
<polygon points="323.50,471.26 324.82,473.66 322.18,473.66" fill="#33e3ff"/><polygon points="323.83,467.07 325.15,469.47 322.51,469.47" fill="#33e3ff"/><polygon points="324.30,462.90 325.62,465.30 322.98,465.30" fill="#33e3ff"/><polygon points="325.09,458.78 326.41,461.18 323.77,461.18" fill="#33e3ff"/><polygon points="326.13,454.71 327.45,457.11 324.81,457.11" fill="#33e3ff"/><polygon points="327.38,450.70 328.70,453.10 326.06,453.10" fill="#33e3ff"/><polygon points="328.83,446.76 330.15,449.16 327.51,449.16" fill="#33e3ff"/><polygon points="330.48,442.90 331.80,445.30 329.16,445.30" fill="#33e3ff"/><polygon points="332.42,439.17 333.74,441.57 331.10,441.57" fill="#33e3ff"/><polygon points="334.57,435.57 335.89,437.97 333.25,437.97" fill="#33e3ff"/><polygon points="336.87,432.05 338.19,434.45 335.55,434.45" fill="#33e3ff"/><polygon points="339.42,428.72 340.74,431.12 338.10,431.12" fill="#33e3ff"/><polygon points="342.22,425.59 343.54,427.99 340.90,427.99" fill="#33e3ff"/><polygon points="345.16,422.59 346.48,424.99 343.84,424.99" fill="#33e3ff"/><polygon points="348.19,419.68 349.51,422.08 346.87,422.08" fill="#33e3ff"/><polygon points="351.20,416.75 352.52,419.15 349.88,419.15" fill="#33e3ff"/><polygon points="354.37,413.99 355.69,416.39 353.05,416.39" fill="#33e3ff"/><polygon points="357.70,411.44 359.02,413.84 356.38,413.84" fill="#33e3ff"/><polygon points="361.08,408.95 362.40,411.35 359.76,411.35" fill="#33e3ff"/><polygon points="364.53,406.55 365.85,408.95 363.21,408.95" fill="#33e3ff"/><polygon points="368.03,404.22 369.35,406.62 366.71,406.62" fill="#33e3ff"/><polygon points="371.60,402.01 372.92,404.41 370.28,404.41" fill="#33e3ff"/><polygon points="375.26,399.96 376.58,402.36 373.94,402.36" fill="#33e3ff"/><polygon points="379.08,398.24 380.40,400.64 377.76,400.64" fill="#33e3ff"/><polygon points="382.71,396.18 384.03,398.58 381.39,398.58" fill="#33e3ff"/><polygon points="385.83,393.38 387.15,395.78 384.51,395.78" fill="#33e3ff"/><polygon points="388.86,390.47 390.18,392.87 387.54,392.87" fill="#33e3ff"/><polygon points="389.50,389.86 390.82,392.26 388.18,392.26" fill="#33e3ff"/><polygon points="395.00,384.86 396.32,387.26 393.68,387.26" fill="#33e3ff"/><polygon points="400.00,382.16 401.32,384.56 398.68,384.56" fill="#33e3ff"/><polygon points="405.50,380.46 406.82,382.86 404.18,382.86" fill="#33e3ff"/><polygon points="411.00,380.16 412.32,382.56 409.68,382.56" fill="#33e3ff"/><polygon points="416.00,379.66 417.32,382.06 414.68,382.06" fill="#33e3ff"/><polygon points="420.40,382.16 421.72,384.56 419.08,384.56" fill="#33e3ff"/><polygon points="425.90,386.56 427.22,388.96 424.58,388.96" fill="#33e3ff"/><polygon points="431.40,392.56 432.72,394.96 430.08,394.96" fill="#33e3ff"/><polygon points="435.80,398.66 437.12,401.06 434.48,401.06" fill="#33e3ff"/><polygon points="438.60,403.16 439.92,405.56 437.28,405.56" fill="#33e3ff"/><polygon points="440.80,407.86 442.12,410.26 439.48,410.26" fill="#33e3ff"/><polygon points="443.30,417.06 444.62,419.46 441.98,419.46" fill="#33e3ff"/><polygon points="445.90,422.16 447.22,424.56 444.58,424.56" fill="#33e3ff"/><polygon points="448.40,427.76 449.72,430.16 447.08,430.16" fill="#33e3ff"/><polygon points="450.50,430.26 451.82,432.66 449.18,432.66" fill="#33e3ff"/><polygon points="453.00,427.26 454.32,429.66 451.68,429.66" fill="#33e3ff"/><polygon points="455.60,420.16 456.92,422.56 454.28,422.56" fill="#33e3ff"/><polygon points="458.10,411.96 459.42,414.36 456.78,414.36" fill="#33e3ff"/><polygon points="460.60,403.86 461.92,406.26 459.28,406.26" fill="#33e3ff"/><polygon points="463.20,394.66 464.52,397.06 461.88,397.06" fill="#33e3ff"/><polygon points="465.80,384.06 467.12,386.46 464.48,386.46" fill="#33e3ff"/><polygon points="468.60,372.76 469.92,375.16 467.28,375.16" fill="#33e3ff"/><polygon points="471.30,360.56 472.62,362.96 469.98,362.96" fill="#33e3ff"/><polygon points="473.80,347.96 475.12,350.36 472.48,350.36" fill="#33e3ff"/>
<polygon points="324.10,474.19 325.42,471.79 322.78,471.79" fill="#46ec46"/><polygon points="324.43,470.01 325.75,467.61 323.11,467.61" fill="#46ec46"/><polygon points="324.90,465.84 326.22,463.44 323.58,463.44" fill="#46ec46"/><polygon points="325.69,461.71 327.01,459.31 324.37,459.31" fill="#46ec46"/><polygon points="326.73,457.64 328.05,455.24 325.41,455.24" fill="#46ec46"/><polygon points="327.99,453.64 329.31,451.24 326.67,451.24" fill="#46ec46"/><polygon points="329.45,449.70 330.77,447.30 328.13,447.30" fill="#46ec46"/><polygon points="331.12,445.84 332.44,443.44 329.80,443.44" fill="#46ec46"/><polygon points="333.07,442.13 334.39,439.73 331.75,439.73" fill="#46ec46"/><polygon points="335.23,438.53 336.55,436.13 333.91,436.13" fill="#46ec46"/><polygon points="337.54,435.02 338.86,432.62 336.22,432.62" fill="#46ec46"/><polygon points="340.12,431.70 341.44,429.30 338.80,429.30" fill="#46ec46"/><polygon points="342.93,428.59 344.25,426.19 341.61,426.19" fill="#46ec46"/><polygon points="345.89,425.60 347.21,423.20 344.57,423.20" fill="#46ec46"/><polygon points="348.91,422.69 350.23,420.29 347.59,420.29" fill="#46ec46"/><polygon points="351.92,419.76 353.24,417.36 350.60,417.36" fill="#46ec46"/><polygon points="355.12,417.04 356.44,414.64 353.80,414.64" fill="#46ec46"/><polygon points="358.46,414.49 359.78,412.09 357.14,412.09" fill="#46ec46"/><polygon points="361.85,412.02 363.17,409.62 360.53,409.62" fill="#46ec46"/><polygon points="365.30,409.62 366.62,407.22 363.98,407.22" fill="#46ec46"/><polygon points="368.81,407.32 370.13,404.92 367.49,404.92" fill="#46ec46"/><polygon points="372.39,405.12 373.71,402.72 371.07,402.72" fill="#46ec46"/><polygon points="376.07,403.09 377.39,400.69 374.75,400.69" fill="#46ec46"/><polygon points="379.99,401.66 381.31,399.26 378.67,399.26" fill="#46ec46"/><polygon points="383.20,399.06 384.52,396.66 381.88,396.66" fill="#46ec46"/><polygon points="385.67,395.66 386.99,393.26 384.35,393.26" fill="#46ec46"/><polygon points="388.00,392.18 389.32,389.78 386.68,389.78" fill="#46ec46"/><polygon points="389.50,389.94 390.82,387.54 388.18,387.54" fill="#46ec46"/><polygon points="394.50,383.94 395.82,381.54 393.18,381.54" fill="#46ec46"/><polygon points="400.00,381.14 401.32,378.74 398.68,378.74" fill="#46ec46"/><polygon points="405.50,376.44 406.82,374.04 404.18,374.04" fill="#46ec46"/><polygon points="412.50,376.24 413.82,373.84 411.18,373.84" fill="#46ec46"/><polygon points="418.70,373.44 420.02,371.04 417.38,371.04" fill="#46ec46"/><polygon points="424.80,377.34 426.12,374.94 423.48,374.94" fill="#46ec46"/><polygon points="430.30,382.24 431.62,379.84 428.98,379.84" fill="#46ec46"/><polygon points="435.80,388.34 437.12,385.94 434.48,385.94" fill="#46ec46"/><polygon points="440.80,395.44 442.12,393.04 439.48,393.04" fill="#46ec46"/><polygon points="444.40,402.64 445.72,400.24 443.08,400.24" fill="#46ec46"/><polygon points="447.40,410.74 448.72,408.34 446.08,408.34" fill="#46ec46"/><polygon points="450.00,417.94 451.32,415.54 448.68,415.54" fill="#46ec46"/><polygon points="452.50,424.04 453.82,421.64 451.18,421.64" fill="#46ec46"/><polygon points="454.50,428.04 455.82,425.64 453.18,425.64" fill="#46ec46"/><polygon points="456.10,429.64 457.42,427.24 454.78,427.24" fill="#46ec46"/><polygon points="458.60,426.04 459.92,423.64 457.28,423.64" fill="#46ec46"/><polygon points="461.20,418.94 462.52,416.54 459.88,416.54" fill="#46ec46"/><polygon points="464.00,408.74 465.32,406.34 462.68,406.34" fill="#46ec46"/><polygon points="466.40,398.64 467.72,396.24 465.08,396.24" fill="#46ec46"/><polygon points="468.80,387.94 470.12,385.54 467.48,385.54" fill="#46ec46"/><polygon points="471.10,380.44 472.42,378.04 469.78,378.04" fill="#46ec46"/><polygon points="473.40,373.04 474.72,370.64 472.08,370.64" fill="#46ec46"/><polygon points="476.60,361.94 477.92,359.54 475.28,359.54" fill="#46ec46"/><polygon points="479.80,350.74 481.12,348.34 478.48,348.34" fill="#46ec46"/>
<polygon points="325.39,471.31 326.95,472.87 325.39,474.43 323.83,472.87" fill="#a866ee"/><polygon points="325.72,467.12 327.28,468.68 325.72,470.24 324.16,468.68" fill="#a866ee"/><polygon points="326.20,462.95 327.76,464.51 326.20,466.07 324.64,464.51" fill="#a866ee"/><polygon points="327.00,458.83 328.56,460.39 327.00,461.95 325.44,460.39" fill="#a866ee"/><polygon points="328.05,454.77 329.61,456.33 328.05,457.89 326.49,456.33" fill="#a866ee"/><polygon points="329.32,450.76 330.88,452.32 329.32,453.88 327.76,452.32" fill="#a866ee"/><polygon points="330.79,446.83 332.35,448.39 330.79,449.95 329.23,448.39" fill="#a866ee"/><polygon points="332.49,442.99 334.05,444.55 332.49,446.11 330.93,444.55" fill="#a866ee"/><polygon points="334.48,439.29 336.04,440.85 334.48,442.41 332.92,440.85" fill="#a866ee"/><polygon points="336.66,435.70 338.22,437.26 336.66,438.82 335.10,437.26" fill="#a866ee"/><polygon points="339.00,432.22 340.56,433.78 339.00,435.34 337.44,433.78" fill="#a866ee"/><polygon points="341.63,428.94 343.19,430.50 341.63,432.06 340.07,430.50" fill="#a866ee"/><polygon points="344.47,425.85 346.03,427.41 344.47,428.97 342.91,427.41" fill="#a866ee"/><polygon points="347.46,422.90 349.02,424.46 347.46,426.02 345.90,424.46" fill="#a866ee"/><polygon points="350.48,419.98 352.04,421.54 350.48,423.10 348.92,421.54" fill="#a866ee"/><polygon points="353.51,417.08 355.07,418.64 353.51,420.20 351.95,418.64" fill="#a866ee"/><polygon points="356.76,414.41 358.32,415.97 356.76,417.53 355.20,415.97" fill="#a866ee"/><polygon points="360.11,411.88 361.67,413.44 360.11,415.00 358.55,413.44" fill="#a866ee"/><polygon points="363.52,409.43 365.08,410.99 363.52,412.55 361.96,410.99" fill="#a866ee"/><polygon points="366.99,407.06 368.55,408.62 366.99,410.18 365.43,408.62" fill="#a866ee"/><polygon points="370.51,404.78 372.07,406.34 370.51,407.90 368.95,406.34" fill="#a866ee"/><polygon points="374.12,402.63 375.68,404.19 374.12,405.75 372.56,404.19" fill="#a866ee"/><polygon points="377.83,400.65 379.39,402.21 377.83,403.77 376.27,402.21" fill="#a866ee"/><polygon points="381.67,398.97 383.23,400.53 381.67,402.09 380.11,400.53" fill="#a866ee"/><polygon points="384.00,396.34 385.56,397.90 384.00,399.46 382.44,397.90" fill="#a866ee"/><polygon points="389.50,382.04 391.06,383.60 389.50,385.16 387.94,383.60" fill="#a866ee"/><polygon points="393.40,373.74 394.96,375.30 393.40,376.86 391.84,375.30" fill="#a866ee"/><polygon points="398.00,365.54 399.56,367.10 398.00,368.66 396.44,367.10" fill="#a866ee"/><polygon points="399.80,362.54 401.36,364.10 399.80,365.66 398.24,364.10" fill="#a866ee"/><polygon points="405.10,356.64 406.66,358.20 405.10,359.76 403.54,358.20" fill="#a866ee"/><polygon points="412.70,343.74 414.26,345.30 412.70,346.86 411.14,345.30" fill="#a866ee"/><polygon points="419.30,337.84 420.86,339.40 419.30,340.96 417.74,339.40" fill="#a866ee"/><polygon points="429.30,334.64 430.86,336.20 429.30,337.76 427.74,336.20" fill="#a866ee"/><polygon points="438.40,330.24 439.96,331.80 438.40,333.36 436.84,331.80" fill="#a866ee"/><polygon points="447.30,333.44 448.86,335.00 447.30,336.56 445.74,335.00" fill="#a866ee"/><polygon points="455.80,341.24 457.36,342.80 455.80,344.36 454.24,342.80" fill="#a866ee"/><polygon points="464.20,349.64 465.76,351.20 464.20,352.76 462.64,351.20" fill="#a866ee"/><polygon points="470.80,358.14 472.36,359.70 470.80,361.26 469.24,359.70" fill="#a866ee"/><polygon points="474.50,364.04 476.06,365.60 474.50,367.16 472.94,365.60" fill="#a866ee"/><polygon points="478.00,369.94 479.56,371.50 478.00,373.06 476.44,371.50" fill="#a866ee"/><polygon points="479.80,376.44 481.36,378.00 479.80,379.56 478.24,378.00" fill="#a866ee"/><polygon points="481.60,382.94 483.16,384.50 481.60,386.06 480.04,384.50" fill="#a866ee"/><polygon points="483.60,390.24 485.16,391.80 483.60,393.36 482.04,391.80" fill="#a866ee"/><polygon points="485.80,395.94 487.36,397.50 485.80,399.06 484.24,397.50" fill="#a866ee"/><polygon points="488.10,401.54 489.66,403.10 488.10,404.66 486.54,403.10" fill="#a866ee"/><polygon points="492.70,407.04 494.26,408.60 492.70,410.16 491.14,408.60" fill="#a866ee"/><polygon points="496.40,402.44 497.96,404.00 496.40,405.56 494.84,404.00" fill="#a866ee"/><polygon points="498.00,396.94 499.56,398.50 498.00,400.06 496.44,398.50" fill="#a866ee"/><polygon points="499.20,392.34 500.76,393.90 499.20,395.46 497.64,393.90" fill="#a866ee"/><polygon points="501.00,384.04 502.56,385.60 501.00,387.16 499.44,385.60" fill="#a866ee"/><polygon points="504.10,374.84 505.66,376.40 504.10,377.96 502.54,376.40" fill="#a866ee"/><polygon points="507.90,362.54 509.46,364.10 507.90,365.66 506.34,364.10" fill="#a866ee"/><polygon points="511.70,347.74 513.26,349.30 511.70,350.86 510.14,349.30" fill="#a866ee"/><polygon points="517.40,332.84 518.96,334.40 517.40,335.96 515.84,334.40" fill="#a866ee"/>
<rect x="295.6" y="308.4" width="232.39999999999998" height="186.70000000000005" fill="none" stroke="#333" stroke-width="1.1"/>
<path d="M318.90,495.1 v-1.6 M342.20,495.1 v-2.6 M365.50,495.1 v-1.6 M388.80,495.1 v-2.6 M412.10,495.1 v-1.6 M435.40,495.1 v-2.6 M458.70,495.1 v-1.6 M482.00,495.1 v-2.6 M505.30,495.1 v-1.6 M295.6,481.75 h1.6 M295.6,468.40 h2.6 M295.6,455.05 h1.6 M295.6,441.70 h2.6 M295.6,428.35 h1.6 M295.6,415.00 h2.6 M295.6,401.65 h1.6 M295.6,388.30 h2.6 M295.6,374.95 h1.6 M295.6,361.60 h2.6 M295.6,348.25 h1.6 M295.6,334.90 h2.6 M295.6,321.55 h1.6" stroke="#333" stroke-width="1"/>
<text x="292.2" y="498.00" font-size="8.4" text-anchor="end" font-weight="normal" fill="#1a1a1a" stroke="#1a1a1a" stroke-width="0" >-0.1</text>
<text x="292.2" y="471.30" font-size="8.4" text-anchor="end" font-weight="normal" fill="#1a1a1a" stroke="#1a1a1a" stroke-width="0" >0.0</text>
<text x="292.2" y="444.60" font-size="8.4" text-anchor="end" font-weight="normal" fill="#1a1a1a" stroke="#1a1a1a" stroke-width="0" >0.1</text>
<text x="292.2" y="417.90" font-size="8.4" text-anchor="end" font-weight="normal" fill="#1a1a1a" stroke="#1a1a1a" stroke-width="0" >0.2</text>
<text x="292.2" y="391.20" font-size="8.4" text-anchor="end" font-weight="normal" fill="#1a1a1a" stroke="#1a1a1a" stroke-width="0" >0.3</text>
<text x="292.2" y="364.50" font-size="8.4" text-anchor="end" font-weight="normal" fill="#1a1a1a" stroke="#1a1a1a" stroke-width="0" >0.4</text>
<text x="292.2" y="337.80" font-size="8.4" text-anchor="end" font-weight="normal" fill="#1a1a1a" stroke="#1a1a1a" stroke-width="0" >0.5</text>
<text x="292.2" y="311.10" font-size="8.4" text-anchor="end" font-weight="normal" fill="#1a1a1a" stroke="#1a1a1a" stroke-width="0" >0.6</text>
<text x="295.60" y="504.8" font-size="8.4" text-anchor="middle" font-weight="normal" fill="#1a1a1a" stroke="#1a1a1a" stroke-width="0" >0.0</text>
<text x="342.20" y="504.8" font-size="8.4" text-anchor="middle" font-weight="normal" fill="#1a1a1a" stroke="#1a1a1a" stroke-width="0" >0.5</text>
<text x="388.80" y="504.8" font-size="8.4" text-anchor="middle" font-weight="normal" fill="#1a1a1a" stroke="#1a1a1a" stroke-width="0" >1.0</text>
<text x="435.40" y="504.8" font-size="8.4" text-anchor="middle" font-weight="normal" fill="#1a1a1a" stroke="#1a1a1a" stroke-width="0" >1.5</text>
<text x="482.00" y="504.8" font-size="8.4" text-anchor="middle" font-weight="normal" fill="#1a1a1a" stroke="#1a1a1a" stroke-width="0" >2.0</text>
<text x="528.60" y="504.8" font-size="8.4" text-anchor="middle" font-weight="normal" fill="#1a1a1a" stroke="#1a1a1a" stroke-width="0" >2.5</text>
<text x="412" y="520.7" font-size="9.5" text-anchor="middle" font-weight="normal" fill="#1a1a1a" stroke="#1a1a1a" stroke-width="0.1" >Re(&#937;)</text>
<text x="0" y="0" font-size="9.5" text-anchor="middle" fill="#1a1a1a" transform="translate(275.8,401) rotate(-90)">Im(&#937;)</text>
<text x="393.4" y="540.9" font-size="14" text-anchor="start" font-weight="bold" fill="#1a1a1a" stroke="#1a1a1a" stroke-width="0.06" ><tspan font-weight="normal">(</tspan>c<tspan font-weight="normal">)</tspan></text>
<rect x="300.3" y="309.6" width="71" height="49.2" fill="#fff" stroke="#444" stroke-width="0.8"/>
<line x1="301.4" y1="315.30" x2="319.8" y2="315.30" stroke="#f7a055" stroke-width="1.4"/>
<rect x="308.40" y="313.10" width="4.40" height="4.40" fill="#f39a4e"/>
<text x="321.6" y="318.10" font-size="8.0" text-anchor="start" font-weight="normal" fill="#1a1a1a" stroke="#1a1a1a" stroke-width="0.1" >Cycle 1 time</text>
<line x1="301.4" y1="325.23" x2="319.8" y2="325.23" stroke="#ff3c3c" stroke-width="1.4"/>
<circle cx="310.60" cy="325.23" r="2.20" fill="#8a00cc"/>
<text x="321.6" y="328.03" font-size="8.0" text-anchor="start" font-weight="normal" fill="#1a1a1a" stroke="#1a1a1a" stroke-width="0.1" >Cycle 15 times</text>
<line x1="301.4" y1="335.16" x2="319.8" y2="335.16" stroke="#3c8cf0" stroke-width="1.4"/>
<polygon points="310.60,332.52 313.02,336.92 308.18,336.92" fill="#33e3ff"/>
<text x="321.6" y="337.96" font-size="8.0" text-anchor="start" font-weight="normal" fill="#1a1a1a" stroke="#1a1a1a" stroke-width="0.1" >Cycle 40 times</text>
<line x1="301.4" y1="345.09" x2="319.8" y2="345.09" stroke="#30b848" stroke-width="1.4"/>
<polygon points="310.60,347.73 313.02,343.33 308.18,343.33" fill="#46ec46"/>
<text x="321.6" y="347.89" font-size="8.0" text-anchor="start" font-weight="normal" fill="#1a1a1a" stroke="#1a1a1a" stroke-width="0.1" >Cycle 60 times</text>
<line x1="301.4" y1="355.02" x2="319.8" y2="355.02" stroke="#b070f0" stroke-width="1.4"/>
<polygon points="310.60,352.16 313.46,355.02 310.60,357.88 307.74,355.02" fill="#a866ee"/>
<text x="321.6" y="357.82" font-size="8.0" text-anchor="start" font-weight="normal" fill="#1a1a1a" stroke="#1a1a1a" stroke-width="0.1" >Cycle 80 times</text>
</svg>
</body></html>
